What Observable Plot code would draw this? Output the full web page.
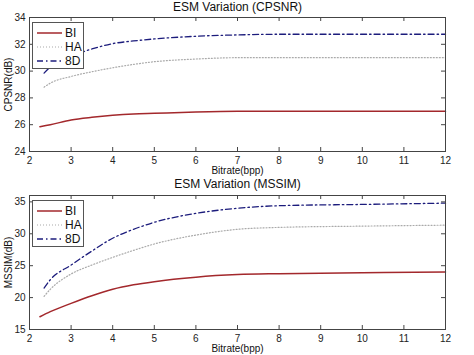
<!DOCTYPE html>
<html>
<head>
<meta charset="utf-8">
<script src="https://cdn.jsdelivr.net/npm/d3@7"></script>
<script src="https://cdn.jsdelivr.net/npm/@observablehq/plot@0.6"></script>
<style>
  body { margin: 0; background: #fff; font-family: "Liberation Sans", Arial, sans-serif; }
  #wrap { position: relative; width: 474px; height: 355px; }
  .panel { position: absolute; left: 0; width: 474px; }
  .legend { position: absolute; background: #fff; border: 1px solid #555; font-size: 12px; color: #111; }
  .legend .row { position: absolute; left: 0; height: 14px; display: flex; align-items: center; }
</style>
</head>
<body>
<div id="wrap"></div>
<script>
// ---- data ----
const seriesNames = ["BI", "HA", "8D"];
const xBI = [2.25, 2.5, 3, 3.5, 4, 4.5, 5, 6, 7, 8, 10, 12];
const xOther = [2.35, 2.5, 3, 3.5, 4, 4.5, 5, 6, 7, 8, 10, 12];

const cpsnrBI = [25.85, 26.0, 26.35, 26.55, 26.7, 26.8, 26.85, 26.95, 27.0, 27.0, 27.0, 27.0];
const cpsnrHA = [28.8, 29.1, 29.6, 29.95, 30.25, 30.5, 30.7, 30.9, 31.0, 31.0, 31.0, 31.0];
const cpsnr8D = [29.85, 30.3, 31.1, 31.65, 32.05, 32.25, 32.4, 32.6, 32.7, 32.75, 32.75, 32.75];

const mssimBI = [17.0, 17.8, 19.1, 20.3, 21.3, 22.0, 22.5, 23.2, 23.6, 23.75, 23.9, 24.0];
const mssimHA = [20.2, 21.3, 23.7, 25.1, 26.3, 27.4, 28.4, 29.8, 30.7, 31.0, 31.2, 31.35];
const mssim8D = [21.5, 22.8, 25.1, 27.3, 29.3, 30.7, 31.8, 33.2, 34.0, 34.4, 34.6, 34.8];

const xTicks = [2, 3, 4, 5, 6, 7, 8, 9, 10, 11, 12];
const yTicksTop = [24, 26, 28, 30, 32, 34];
const yTicksBottom = [15, 20, 25, 30, 35];

const titles = ["ESM Variation (CPSNR)", "ESM Variation (MSSIM)"];
const yLabels = ["CPSNR(dB)", "MSSIM(dB)"];
const xLabel = "Bitrate(bpp)";

// ---- styles ----
const styles = {
  BI: {stroke: "#a3282c", strokeWidth: 1.5, dash: null},
  HA: {stroke: "#aaaaaa", strokeWidth: 1.2, dash: "1,2"},
  "8D": {stroke: "#1c1c7c", strokeWidth: 1.3, dash: "6,3,1.5,3"}
};

function rows(xs, ys, name) { return xs.map((x, i) => ({x, y: ys[i], name})); }

function panel({title, yLabel, series, yDomain, yTicks, height, mt, mb, top, legendTop}) {
  const ml = 29, mr = 29;
  const ih = height - mt - mb;
  const tickLen = 4;
  const font = "Liberation Sans, Arial, sans-serif";
  const chart = Plot.plot({
    width: 474, height,
    marginTop: mt, marginBottom: mb, marginLeft: ml, marginRight: mr,
    style: {fontFamily: font, fontSize: "10px", color: "#222", background: "#fff"},
    x: {domain: [2, 12], ticks: xTicks, tickSize: 0, tickPadding: 5, label: null},
    y: {domain: yDomain, ticks: yTicks, tickSize: 0, tickPadding: 4, label: null},
    marks: [
      ...series.map(s => Plot.line(s.data, {
        x: "x", y: "y", curve: "monotone-x",
        stroke: styles[s.name].stroke, strokeWidth: styles[s.name].strokeWidth,
        strokeDasharray: styles[s.name].dash
      })),
      Plot.tickX(xTicks, {x: d => d, insetTop: ih - tickLen, stroke: "#444"}),
      Plot.tickX(xTicks, {x: d => d, insetBottom: ih - tickLen, stroke: "#444"}),
      Plot.tickY(yTicks, {y: d => d, insetRight: 474 - ml - mr - tickLen, stroke: "#444"}),
      Plot.tickY(yTicks, {y: d => d, insetLeft: 474 - ml - mr - tickLen, stroke: "#444"}),
      Plot.frame({stroke: "#444"}),
      Plot.text([title], {frameAnchor: "top", lineAnchor: "middle", dy: -(mt - 7), fontSize: 12, fill: "#111", text: d => d}),
      Plot.text([xLabel], {frameAnchor: "bottom", lineAnchor: "middle", dy: 19, fontSize: 10, fill: "#111", text: d => d}),
      Plot.text([yLabel], {frameAnchor: "left", textAnchor: "middle", lineAnchor: "middle", dx: -21, rotate: -90, fontSize: 10, fill: "#111", text: d => d})
    ]
  });
  const div = document.createElement("div");
  div.className = "panel";
  div.style.top = top + "px";
  div.appendChild(chart);
  // legend
  const lg = document.createElement("div");
  lg.className = "legend";
  lg.style.left = "32px"; lg.style.top = legendTop + "px";
  lg.style.width = "50px"; lg.style.height = "45px";
  series.forEach((s, i) => {
    const r = document.createElement("div");
    r.className = "row";
    r.style.top = (3 + i * 14) + "px";
    const st = styles[s.name];
    r.innerHTML = `<svg width="30" height="14"><line x1="4" x2="29" y1="7" y2="7" stroke="${st.stroke}" stroke-width="${st.strokeWidth}" ${st.dash ? `stroke-dasharray="${st.dash}"` : ""}/></svg><span style="margin-left:2px">${s.name}</span>`;
    lg.appendChild(r);
  });
  div.appendChild(lg);
  return div;
}

const wrap = document.getElementById("wrap");
wrap.appendChild(panel({
  title: titles[0], yLabel: yLabels[0],
  series: [
    {name: seriesNames[0], data: rows(xBI, cpsnrBI)},
    {name: seriesNames[1], data: rows(xOther, cpsnrHA)},
    {name: seriesNames[2], data: rows(xOther, cpsnr8D)}
  ],
  yDomain: [24, 34], yTicks: yTicksTop, height: 177, mt: 17, mb: 26, top: 0, legendTop: 22
}));
wrap.appendChild(panel({
  title: titles[1], yLabel: yLabels[1],
  series: [
    {name: seriesNames[0], data: rows(xBI, mssimBI)},
    {name: seriesNames[1], data: rows(xOther, mssimHA)},
    {name: seriesNames[2], data: rows(xOther, mssim8D)}
  ],
  yDomain: [15, 36], yTicks: yTicksBottom, height: 178, mt: 18, mb: 26, top: 177, legendTop: 23
}));
</script>
</body>
</html>
